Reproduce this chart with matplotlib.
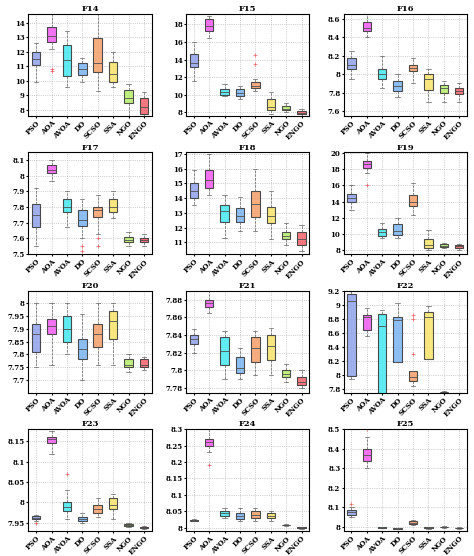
import matplotlib
matplotlib.use('Agg')
import matplotlib.pyplot as plt

algorithms = ['PSO', 'AOA', 'AVOA', 'DO', 'SCSO', 'SSA', 'NGO', 'ENGO']
box_colors = ['#8fa3ea', '#f25cf0', '#45e8f0', '#79b4f2', '#f5a06a', '#f8e46a', '#b5ee6a', '#f5616a']

# each row: (low whisker, q1, median, q3, high whisker)
F14 = [(9.9, 11.1, 11.5, 12.0, 12.6), (12.2, 12.7, 13.1, 13.7, 14.6), (9.6, 10.35, 11.4, 12.45, 13.45),
       (9.9, 10.4, 10.8, 11.2, 11.6), (9.3, 10.6, 11.2, 12.95, 14.6), (9.55, 9.9, 10.5, 11.3, 12.0),
       (7.6, 8.45, 8.8, 9.35, 9.8), (7.6, 7.7, 8.2, 8.8, 9.2)]
F15 = [(11.5, 13.2, 13.6, 14.6, 16.0), (16.5, 17.2, 17.8, 18.6, 19.0), (9.8, 10.0, 10.3, 10.6, 11.2),
       (9.5, 9.8, 10.2, 10.6, 11.0), (10.4, 10.8, 11.0, 11.4, 11.8), (7.8, 8.2, 8.6, 9.5, 10.3),
       (8.0, 8.2, 8.4, 8.7, 9.0), (7.6, 7.8, 7.9, 8.1, 8.4)]
F16 = [(7.95, 8.05, 8.1, 8.17, 8.25), (8.4, 8.46, 8.5, 8.56, 8.65), (7.85, 7.95, 8.0, 8.05, 8.2),
       (7.75, 7.82, 7.87, 7.93, 8.0), (7.9, 8.03, 8.06, 8.1, 8.17), (7.7, 7.83, 7.95, 8.0, 8.05),
       (7.7, 7.8, 7.85, 7.88, 7.92), (7.7, 7.78, 7.82, 7.85, 7.9)]
F17 = [(7.55, 7.67, 7.75, 7.82, 7.92), (7.97, 8.02, 8.04, 8.07, 8.1), (7.67, 7.77, 7.8, 7.85, 7.9),
       (7.6, 7.68, 7.72, 7.78, 7.85), (7.63, 7.74, 7.78, 7.8, 7.88), (7.73, 7.77, 7.8, 7.85, 7.9),
       (7.55, 7.58, 7.59, 7.61, 7.64), (7.55, 7.58, 7.59, 7.6, 7.63)]
F18 = [(13.5, 14.0, 14.5, 15.0, 15.9), (14.2, 14.7, 15.2, 15.9, 17.0), (11.3, 12.4, 13.1, 13.5, 14.2),
       (11.8, 12.4, 12.8, 13.3, 14.1), (11.8, 12.7, 13.6, 14.5, 16.0), (11.2, 12.3, 12.8, 13.4, 14.5),
       (10.8, 11.2, 11.4, 11.7, 12.3), (10.4, 10.8, 11.2, 11.7, 12.2)]
F19 = [(13.0, 14.0, 14.4, 15.0, 16.0), (17.5, 18.2, 18.6, 19.0, 20.0), (9.5, 9.8, 10.2, 10.6, 11.3),
       (9.5, 9.9, 10.4, 11.2, 12.0), (12.4, 13.4, 14.0, 14.8, 16.3), (8.0, 8.2, 8.6, 9.4, 10.5),
       (8.2, 8.4, 8.5, 8.7, 8.9), (8.0, 8.3, 8.5, 8.6, 8.8)]
F20 = [(7.75, 7.81, 7.88, 7.92, 8.0), (7.76, 7.88, 7.91, 7.94, 8.0), (7.8, 7.85, 7.9, 7.95, 8.0),
       (7.7, 7.78, 7.82, 7.86, 7.96), (7.76, 7.83, 7.88, 7.92, 8.0), (7.76, 7.86, 7.93, 7.97, 8.0),
       (7.73, 7.75, 7.76, 7.78, 7.8), (7.74, 7.75, 7.76, 7.78, 7.79)]
F21 = [(7.82, 7.83, 7.835, 7.84, 7.847), (7.865, 7.872, 7.876, 7.88, 7.89), (7.79, 7.806, 7.822, 7.838, 7.845),
       (7.79, 7.797, 7.803, 7.815, 7.825), (7.795, 7.81, 7.825, 7.838, 7.845), (7.795, 7.812, 7.828, 7.84, 7.848),
       (7.787, 7.793, 7.796, 7.8, 7.807), (7.78, 7.784, 7.787, 7.793, 7.8)]
F22 = [(7.95, 7.99, 9.05, 9.15, 9.2), (8.56, 8.64, 8.82, 8.85, 8.96), (7.7, 7.7, 8.7, 8.87, 8.92),
       (8.19, 8.19, 8.78, 8.83, 9.02), (7.84, 7.91, 7.97, 8.06, 8.06), (8.23, 8.23, 8.82, 8.9, 8.98),
       (7.76, 7.76, 7.76, 7.762, 7.765), (7.75, 7.75, 7.75, 7.75, 7.75)]
F23 = [(7.955, 7.96, 7.963, 7.967, 7.97), (8.12, 8.145, 8.155, 8.16, 8.175), (7.96, 7.98, 7.99, 8.0, 8.03),
       (7.95, 7.955, 7.96, 7.965, 7.975), (7.965, 7.975, 7.985, 7.995, 8.01), (7.96, 7.985, 7.995, 8.01, 8.02),
       (7.94, 7.943, 7.945, 7.948, 7.95), (7.935, 7.937, 7.938, 7.94, 7.942)]
F24 = [(8.02, 8.02, 8.022, 8.023, 8.025), (8.23, 8.25, 8.26, 8.27, 8.3), (8.03, 8.035, 8.045, 8.05, 8.06),
       (8.02, 8.025, 8.035, 8.045, 8.06), (8.02, 8.03, 8.04, 8.05, 8.06), (8.02, 8.03, 8.035, 8.045, 8.05),
       (8.005, 8.007, 8.008, 8.009, 8.01), (7.995, 7.998, 8.0, 8.002, 8.003)]
F25 = [(8.05, 8.06, 8.075, 8.085, 8.1), (8.3, 8.34, 8.37, 8.4, 8.46), (7.995, 7.995, 7.997, 8.0, 8.0),
       (7.99, 7.99, 7.992, 7.994, 7.995), (8.01, 8.015, 8.02, 8.03, 8.035), (7.99, 7.995, 7.997, 8.0, 8.0),
       (7.995, 7.998, 8.0, 8.002, 8.005), (7.99, 7.993, 7.995, 7.997, 8.0)]

# outliers per algorithm
F14_out = [[], [10.7, 10.8], [], [], [], [], [], []]
F15_out = [[], [], [], [], [13.5, 14.5], [], [], []]
F17_out = [[], [], [], [7.55, 7.52], [7.55, 7.6], [], [], []]
F19_out = [[], [16.0], [], [], [], [], [], []]
F22_out = [[], [], [], [], [8.3, 8.8, 8.85], [], [], []]
F23_out = [[7.95], [], [8.07], [], [], [], [], []]
F24_out = [[], [8.19], [], [], [], [], [], []]
F25_out = [[8.12], [8.5], [], [], [], [], [], []]
none_out = [[]] * 8

panels = [
    ('F14', F14, F14_out, (7.6, 14.6), [8, 9, 10, 11, 12, 13, 14]),
    ('F15', F15, F15_out, (7.6, 19.2), [8, 10, 12, 14, 16, 18]),
    ('F16', F16, none_out, (7.55, 8.65), [7.6, 7.8, 8, 8.2, 8.4, 8.6]),
    ('F17', F17, F17_out, (7.5, 8.15), [7.5, 7.6, 7.7, 7.8, 7.9, 8, 8.1]),
    ('F18', F18, none_out, (10.2, 17.1), [11, 12, 13, 14, 15, 16, 17]),
    ('F19', F19, F19_out, (7.5, 20.1), [8, 10, 12, 14, 16, 18, 20]),
    ('F20', F20, none_out, (7.65, 8.05), [7.7, 7.75, 7.8, 7.85, 7.9, 7.95, 8]),
    ('F21', F21, none_out, (7.775, 7.89), [7.78, 7.8, 7.82, 7.84, 7.86, 7.88]),
    ('F22', F22, F22_out, (7.75, 9.2), [7.8, 8, 8.2, 8.4, 8.6, 8.8, 9, 9.2]),
    ('F23', F23, F23_out, (7.93, 8.18), [7.95, 8, 8.05, 8.1, 8.15]),
    ('F24', F24, F24_out, (7.99, 8.3), [8, 8.05, 8.1, 8.15, 8.2, 8.25, 8.3]),
    ('F25', F25, F25_out, (7.98, 8.5), [8, 8.1, 8.2, 8.3, 8.4, 8.5]),
]

plt.rcParams.update({'font.family': 'serif', 'font.serif': ['DejaVu Serif'],
                     'font.size': 5, 'font.weight': 'bold'})

fig, axes = plt.subplots(4, 3, figsize=(4.74, 5.56), dpi=100)

for ax, (title, stats_rows, outs, ylim, yticks) in zip(axes.flat, panels):
    stats = []
    for name, row, fl in zip(algorithms, stats_rows, outs):
        lo, q1, med, q3, hi = row
        stats.append({'label': name, 'whislo': lo, 'q1': q1, 'med': med,
                      'q3': q3, 'whishi': hi, 'fliers': fl})
    bp = ax.bxp(stats, patch_artist=True, widths=0.55,
                boxprops=dict(linewidth=0.8, edgecolor='#303030'),
                medianprops=dict(color='#505050', linewidth=0.6),
                whiskerprops=dict(color='#606060', linewidth=0.5, linestyle='--'),
                capprops=dict(color='#606060', linewidth=0.5),
                flierprops=dict(marker='+', markeredgecolor='#f06060', markersize=2.5, markeredgewidth=0.5))
    for patch, c in zip(bp['boxes'], box_colors):
        patch.set_facecolor(c)
        patch.set_alpha(0.85)
    ax.set_ylim(*ylim)
    ax.set_yticks(yticks)
    ax.set_yticklabels(['%g' % t for t in yticks])
    ax.set_title(title, fontsize=6, fontweight='bold', pad=2)
    ax.grid(True, linestyle=':', linewidth=0.5, color='#aaaaaa')
    ax.tick_params(axis='both', length=1.5, pad=1, labelsize=5)
    ax.tick_params(axis='x', rotation=45)
    for lbl in ax.get_xticklabels():
        lbl.set_ha('right')
        lbl.set_rotation_mode('anchor')

fig.subplots_adjust(left=0.06, right=0.985, top=0.975, bottom=0.045, wspace=0.28, hspace=0.36)
plt.savefig('out.png', dpi=100)
